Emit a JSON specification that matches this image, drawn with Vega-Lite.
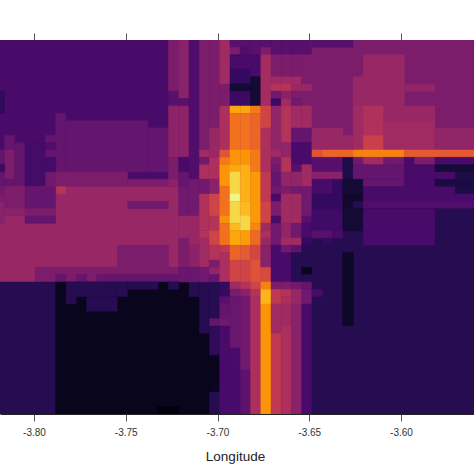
{"$schema":"https://vega.github.io/schema/vega-lite/v6.json","width":474,"height":374,"autosize":"none","padding":{"left":0,"top":40,"right":0,"bottom":60},"background":"white","view":{"stroke":null},
"resolve":{"axis":{"x":"independent"}},
"layer":[{
"data":{"values":[
{"x":-3.8217,"x2":-3.5591,"r":0,"r2":51,"v":0.2},
{"x":-3.8217,"x2":-3.7267,"r":0,"r2":20,"v":0.2},
{"x":-3.8217,"x2":-3.8161,"r":7,"r2":10,"v":0.14},
{"x":-3.7882,"x2":-3.7826,"r":10,"r2":18,"v":0.27},
{"x":-3.7826,"x2":-3.7379,"r":11,"r2":18,"v":0.27},
{"x":-3.7379,"x2":-3.7267,"r":12,"r2":18,"v":0.27},
{"x":-3.8161,"x2":-3.8105,"r":13,"r2":15,"v":0.27},
{"x":-3.8161,"x2":-3.8105,"r":15,"r2":19,"v":0.33},
{"x":-3.8161,"x2":-3.8105,"r":19,"r2":20,"v":0.27},
{"x":-3.8105,"x2":-3.8049,"r":14,"r2":20,"v":0.27},
{"x":-3.8217,"x2":-3.8161,"r":15,"r2":17,"v":0.27},
{"x":-3.8217,"x2":-3.8161,"r":17,"r2":18,"v":0.17},
{"x":-3.8217,"x2":-3.8161,"r":18,"r2":20,"v":0.27},
{"x":-3.8049,"x2":-3.7937,"r":14,"r2":20,"v":0.19},
{"x":-3.7937,"x2":-3.7882,"r":13,"r2":14,"v":0.27},
{"x":-3.7937,"x2":-3.7882,"r":14,"r2":15,"v":0.22},
{"x":-3.7937,"x2":-3.7882,"r":15,"r2":16,"v":0.27},
{"x":-3.7937,"x2":-3.7882,"r":16,"r2":18,"v":0.19},
{"x":-3.7937,"x2":-3.7882,"r":18,"r2":20,"v":0.3},
{"x":-3.7882,"x2":-3.749,"r":18,"r2":20,"v":0.33},
{"x":-3.749,"x2":-3.7267,"r":19,"r2":20,"v":0.33},
{"x":-3.8217,"x2":-3.7211,"r":20,"r2":33,"v":0.4},
{"x":-3.7882,"x2":-3.7826,"r":20,"r2":21,"v":0.47},
{"x":-3.8217,"x2":-3.8161,"r":20,"r2":21,"v":0.3},
{"x":-3.8217,"x2":-3.8161,"r":21,"r2":22,"v":0.33},
{"x":-3.8217,"x2":-3.8161,"r":22,"r2":25,"v":0.36},
{"x":-3.8161,"x2":-3.8049,"r":20,"r2":23,"v":0.33},
{"x":-3.8161,"x2":-3.8049,"r":23,"r2":24,"v":0.36},
{"x":-3.8049,"x2":-3.7882,"r":20,"r2":23,"v":0.27},
{"x":-3.8049,"x2":-3.7882,"r":23,"r2":24,"v":0.33},
{"x":-3.8049,"x2":-3.7882,"r":24,"r2":25,"v":0.27},
{"x":-3.749,"x2":-3.7267,"r":22,"r2":23,"v":0.3},
{"x":-3.7546,"x2":-3.7267,"r":28,"r2":31,"v":0.33},
{"x":-3.7993,"x2":-3.7211,"r":31,"r2":32,"v":0.33},
{"x":-3.7993,"x2":-3.7658,"r":32,"r2":33,"v":0.33},
{"x":-3.7882,"x2":-3.7826,"r":32,"r2":33,"v":0.27},
{"x":-3.777,"x2":-3.7714,"r":32,"r2":33,"v":0.27},
{"x":-3.7658,"x2":-3.7044,"r":32,"r2":33,"v":0.27},
{"x":-3.8217,"x2":-3.7882,"r":33,"r2":51,"v":0.12},
{"x":-3.7882,"x2":-3.7044,"r":33,"r2":51,"v":0.03},
{"x":-3.7826,"x2":-3.7546,"r":33,"r2":35,"v":0.12},
{"x":-3.7826,"x2":-3.777,"r":35,"r2":36,"v":0.12},
{"x":-3.7714,"x2":-3.7546,"r":35,"r2":37,"v":0.12},
{"x":-3.7546,"x2":-3.749,"r":33,"r2":35,"v":0.12},
{"x":-3.749,"x2":-3.7323,"r":33,"r2":34,"v":0.12},
{"x":-3.7267,"x2":-3.7211,"r":33,"r2":34,"v":0.12},
{"x":-3.7155,"x2":-3.7099,"r":33,"r2":35,"v":0.12},
{"x":-3.7099,"x2":-3.7044,"r":33,"r2":40,"v":0.12},
{"x":-3.7044,"x2":-3.6988,"r":33,"r2":38,"v":0.12},
{"x":-3.7044,"x2":-3.6988,"r":38,"r2":39,"v":0.27},
{"x":-3.7044,"x2":-3.6988,"r":39,"r2":43,"v":0.14},
{"x":-3.7044,"x2":-3.6988,"r":43,"r2":48,"v":0.03},
{"x":-3.7044,"x2":-3.6988,"r":48,"r2":51,"v":0.12},
{"x":-3.7323,"x2":-3.7211,"r":50,"r2":51,"v":0},
{"x":-3.7267,"x2":-3.7211,"r":0,"r2":7,"v":0.33},
{"x":-3.7267,"x2":-3.7211,"r":7,"r2":9,"v":0.24},
{"x":-3.7267,"x2":-3.7211,"r":9,"r2":16,"v":0.37},
{"x":-3.7267,"x2":-3.7211,"r":16,"r2":19,"v":0.33},
{"x":-3.7267,"x2":-3.7211,"r":19,"r2":20,"v":0.37},
{"x":-3.7211,"x2":-3.7155,"r":0,"r2":8,"v":0.36},
{"x":-3.7211,"x2":-3.7155,"r":8,"r2":9,"v":0.24},
{"x":-3.7211,"x2":-3.7155,"r":9,"r2":16,"v":0.37},
{"x":-3.7211,"x2":-3.7155,"r":16,"r2":18,"v":0.2},
{"x":-3.7211,"x2":-3.7155,"r":18,"r2":20,"v":0.27},
{"x":-3.7211,"x2":-3.7155,"r":20,"r2":24,"v":0.3},
{"x":-3.7211,"x2":-3.7155,"r":24,"r2":27,"v":0.4},
{"x":-3.7211,"x2":-3.7155,"r":27,"r2":31,"v":0.33},
{"x":-3.7211,"x2":-3.7155,"r":31,"r2":33,"v":0.28},
{"x":-3.7155,"x2":-3.7099,"r":0,"r2":19,"v":0.22},
{"x":-3.7155,"x2":-3.7099,"r":19,"r2":24,"v":0.3},
{"x":-3.7155,"x2":-3.7099,"r":24,"r2":28,"v":0.4},
{"x":-3.7155,"x2":-3.7099,"r":28,"r2":31,"v":0.37},
{"x":-3.7155,"x2":-3.7099,"r":31,"r2":33,"v":0.28},
{"x":-3.7099,"x2":-3.7044,"r":0,"r2":15,"v":0.33},
{"x":-3.7099,"x2":-3.7044,"r":15,"r2":16,"v":0.42},
{"x":-3.7099,"x2":-3.7044,"r":16,"r2":17,"v":0.3},
{"x":-3.7099,"x2":-3.7044,"r":17,"r2":19,"v":0.45},
{"x":-3.7099,"x2":-3.7044,"r":19,"r2":21,"v":0.3},
{"x":-3.7099,"x2":-3.7044,"r":21,"r2":26,"v":0.46},
{"x":-3.7099,"x2":-3.7044,"r":26,"r2":27,"v":0.47},
{"x":-3.7099,"x2":-3.7044,"r":27,"r2":31,"v":0.42},
{"x":-3.7099,"x2":-3.7044,"r":31,"r2":33,"v":0.3},
{"x":-3.7044,"x2":-3.6988,"r":0,"r2":12,"v":0.33},
{"x":-3.7044,"x2":-3.6988,"r":12,"r2":16,"v":0.4},
{"x":-3.7044,"x2":-3.6988,"r":16,"r2":19,"v":0.45},
{"x":-3.7044,"x2":-3.6988,"r":19,"r2":21,"v":0.36},
{"x":-3.7044,"x2":-3.6988,"r":21,"r2":24,"v":0.55},
{"x":-3.7044,"x2":-3.6988,"r":24,"r2":26,"v":0.47},
{"x":-3.7044,"x2":-3.6988,"r":26,"r2":28,"v":0.55},
{"x":-3.7044,"x2":-3.6988,"r":28,"r2":30,"v":0.47},
{"x":-3.7044,"x2":-3.6988,"r":30,"r2":31,"v":0.33},
{"x":-3.7044,"x2":-3.6988,"r":31,"r2":32,"v":0.38},
{"x":-3.7044,"x2":-3.6988,"r":32,"r2":33,"v":0.27},
{"x":-3.6988,"x2":-3.6932,"r":0,"r2":6,"v":0.42},
{"x":-3.6988,"x2":-3.6932,"r":6,"r2":9,"v":0.33},
{"x":-3.6988,"x2":-3.6932,"r":9,"r2":15,"v":0.45},
{"x":-3.6988,"x2":-3.6932,"r":15,"r2":16,"v":0.6},
{"x":-3.6988,"x2":-3.6932,"r":16,"r2":17,"v":0.7},
{"x":-3.6988,"x2":-3.6932,"r":17,"r2":20,"v":0.76},
{"x":-3.6988,"x2":-3.6932,"r":20,"r2":24,"v":0.68},
{"x":-3.6988,"x2":-3.6932,"r":24,"r2":25,"v":0.75},
{"x":-3.6988,"x2":-3.6932,"r":25,"r2":28,"v":0.68},
{"x":-3.6988,"x2":-3.6932,"r":28,"r2":29,"v":0.5},
{"x":-3.6988,"x2":-3.6932,"r":29,"r2":33,"v":0.45},
{"x":-3.6988,"x2":-3.6932,"r":33,"r2":35,"v":0.16},
{"x":-3.6988,"x2":-3.6932,"r":35,"r2":36,"v":0.24},
{"x":-3.6988,"x2":-3.6932,"r":36,"r2":38,"v":0.27},
{"x":-3.6988,"x2":-3.6932,"r":38,"r2":39,"v":0.3},
{"x":-3.6988,"x2":-3.6932,"r":39,"r2":51,"v":0.2},
{"x":-3.6932,"x2":-3.6876,"r":0,"r2":1,"v":0.24},
{"x":-3.6932,"x2":-3.6876,"r":1,"r2":2,"v":0.33},
{"x":-3.6932,"x2":-3.6876,"r":2,"r2":4,"v":0.2},
{"x":-3.6932,"x2":-3.6876,"r":4,"r2":6,"v":0.15},
{"x":-3.6932,"x2":-3.6876,"r":6,"r2":7,"v":0.07},
{"x":-3.6932,"x2":-3.6876,"r":7,"r2":9,"v":0.17},
{"x":-3.6932,"x2":-3.6876,"r":9,"r2":10,"v":0.8},
{"x":-3.6932,"x2":-3.6876,"r":10,"r2":15,"v":0.68},
{"x":-3.6932,"x2":-3.6876,"r":15,"r2":17,"v":0.76},
{"x":-3.6932,"x2":-3.6876,"r":17,"r2":18,"v":0.8},
{"x":-3.6932,"x2":-3.6876,"r":18,"r2":21,"v":0.9},
{"x":-3.6932,"x2":-3.6876,"r":21,"r2":22,"v":0.97},
{"x":-3.6932,"x2":-3.6876,"r":22,"r2":25,"v":0.9},
{"x":-3.6932,"x2":-3.6876,"r":25,"r2":26,"v":0.84},
{"x":-3.6932,"x2":-3.6876,"r":26,"r2":28,"v":0.8},
{"x":-3.6932,"x2":-3.6876,"r":28,"r2":30,"v":0.65},
{"x":-3.6932,"x2":-3.6876,"r":30,"r2":33,"v":0.55},
{"x":-3.6932,"x2":-3.6876,"r":33,"r2":34,"v":0.42},
{"x":-3.6932,"x2":-3.6876,"r":34,"r2":35,"v":0.32},
{"x":-3.6932,"x2":-3.6876,"r":35,"r2":42,"v":0.28},
{"x":-3.6932,"x2":-3.6876,"r":42,"r2":51,"v":0.2},
{"x":-3.6876,"x2":-3.682,"r":0,"r2":1,"v":0.24},
{"x":-3.6876,"x2":-3.682,"r":1,"r2":2,"v":0.22},
{"x":-3.6876,"x2":-3.682,"r":2,"r2":4,"v":0.2},
{"x":-3.6876,"x2":-3.682,"r":4,"r2":6,"v":0.15},
{"x":-3.6876,"x2":-3.682,"r":6,"r2":7,"v":0.07},
{"x":-3.6876,"x2":-3.682,"r":7,"r2":9,"v":0.17},
{"x":-3.6876,"x2":-3.682,"r":9,"r2":10,"v":0.8},
{"x":-3.6876,"x2":-3.682,"r":10,"r2":15,"v":0.68},
{"x":-3.6876,"x2":-3.682,"r":15,"r2":17,"v":0.76},
{"x":-3.6876,"x2":-3.682,"r":17,"r2":22,"v":0.82},
{"x":-3.6876,"x2":-3.682,"r":22,"r2":24,"v":0.84},
{"x":-3.6876,"x2":-3.682,"r":24,"r2":26,"v":0.9},
{"x":-3.6876,"x2":-3.682,"r":26,"r2":28,"v":0.78},
{"x":-3.6876,"x2":-3.682,"r":28,"r2":30,"v":0.62},
{"x":-3.6876,"x2":-3.682,"r":30,"r2":33,"v":0.55},
{"x":-3.6876,"x2":-3.682,"r":33,"r2":34,"v":0.47},
{"x":-3.6876,"x2":-3.682,"r":34,"r2":35,"v":0.36},
{"x":-3.6876,"x2":-3.682,"r":35,"r2":45,"v":0.3},
{"x":-3.6876,"x2":-3.682,"r":45,"r2":51,"v":0.25},
{"x":-3.682,"x2":-3.6764,"r":0,"r2":2,"v":0.24},
{"x":-3.682,"x2":-3.6764,"r":2,"r2":5,"v":0.2},
{"x":-3.682,"x2":-3.6764,"r":5,"r2":9,"v":0.07},
{"x":-3.682,"x2":-3.6764,"r":9,"r2":10,"v":0.7},
{"x":-3.682,"x2":-3.6764,"r":10,"r2":15,"v":0.65},
{"x":-3.682,"x2":-3.6764,"r":15,"r2":18,"v":0.7},
{"x":-3.682,"x2":-3.6764,"r":18,"r2":25,"v":0.77},
{"x":-3.682,"x2":-3.6764,"r":25,"r2":26,"v":0.73},
{"x":-3.682,"x2":-3.6764,"r":26,"r2":28,"v":0.66},
{"x":-3.682,"x2":-3.6764,"r":28,"r2":30,"v":0.56},
{"x":-3.682,"x2":-3.6764,"r":30,"r2":33,"v":0.6},
{"x":-3.682,"x2":-3.6764,"r":33,"r2":34,"v":0.55},
{"x":-3.682,"x2":-3.6764,"r":34,"r2":35,"v":0.47},
{"x":-3.682,"x2":-3.6764,"r":35,"r2":51,"v":0.45},
{"x":-3.6764,"x2":-3.6708,"r":0,"r2":1,"v":0.24},
{"x":-3.6764,"x2":-3.6708,"r":1,"r2":2,"v":0.33},
{"x":-3.6764,"x2":-3.6708,"r":2,"r2":9,"v":0.43},
{"x":-3.6764,"x2":-3.6708,"r":9,"r2":12,"v":0.55},
{"x":-3.6764,"x2":-3.6708,"r":12,"r2":18,"v":0.45},
{"x":-3.6764,"x2":-3.6708,"r":18,"r2":22,"v":0.5},
{"x":-3.6764,"x2":-3.6708,"r":22,"r2":25,"v":0.55},
{"x":-3.6764,"x2":-3.6708,"r":25,"r2":26,"v":0.42},
{"x":-3.6764,"x2":-3.6708,"r":26,"r2":27,"v":0.45},
{"x":-3.6764,"x2":-3.6708,"r":27,"r2":28,"v":0.4},
{"x":-3.6764,"x2":-3.6708,"r":28,"r2":31,"v":0.36},
{"x":-3.6764,"x2":-3.6708,"r":31,"r2":33,"v":0.57},
{"x":-3.6764,"x2":-3.6708,"r":33,"r2":34,"v":0.72},
{"x":-3.6764,"x2":-3.6708,"r":34,"r2":36,"v":0.83},
{"x":-3.6764,"x2":-3.6708,"r":36,"r2":51,"v":0.76},
{"x":-3.6708,"x2":-3.6653,"r":0,"r2":2,"v":0.24},
{"x":-3.6708,"x2":-3.6653,"r":2,"r2":5,"v":0.33},
{"x":-3.6708,"x2":-3.6653,"r":5,"r2":6,"v":0.42},
{"x":-3.6708,"x2":-3.6653,"r":6,"r2":7,"v":0.47},
{"x":-3.6708,"x2":-3.6653,"r":7,"r2":8,"v":0.3},
{"x":-3.6708,"x2":-3.6653,"r":8,"r2":9,"v":0.17},
{"x":-3.6708,"x2":-3.6653,"r":9,"r2":15,"v":0.38},
{"x":-3.6708,"x2":-3.6653,"r":15,"r2":16,"v":0.42},
{"x":-3.6708,"x2":-3.6653,"r":16,"r2":17,"v":0.33},
{"x":-3.6708,"x2":-3.6653,"r":17,"r2":18,"v":0.3},
{"x":-3.6708,"x2":-3.6653,"r":18,"r2":20,"v":0.27},
{"x":-3.6708,"x2":-3.6653,"r":20,"r2":21,"v":0.3},
{"x":-3.6708,"x2":-3.6653,"r":21,"r2":22,"v":0.2},
{"x":-3.6708,"x2":-3.6653,"r":22,"r2":24,"v":0.33},
{"x":-3.6708,"x2":-3.6653,"r":24,"r2":25,"v":0.2},
{"x":-3.6708,"x2":-3.6653,"r":25,"r2":28,"v":0.3},
{"x":-3.6708,"x2":-3.6653,"r":28,"r2":33,"v":0.2},
{"x":-3.6708,"x2":-3.6653,"r":33,"r2":34,"v":0.33},
{"x":-3.6708,"x2":-3.6653,"r":34,"r2":36,"v":0.5},
{"x":-3.6708,"x2":-3.6653,"r":36,"r2":40,"v":0.42},
{"x":-3.6708,"x2":-3.6653,"r":40,"r2":51,"v":0.5},
{"x":-3.6653,"x2":-3.6597,"r":0,"r2":2,"v":0.24},
{"x":-3.6653,"x2":-3.6597,"r":2,"r2":5,"v":0.33},
{"x":-3.6653,"x2":-3.6597,"r":5,"r2":6,"v":0.42},
{"x":-3.6653,"x2":-3.6597,"r":6,"r2":7,"v":0.47},
{"x":-3.6653,"x2":-3.6597,"r":7,"r2":8,"v":0.36},
{"x":-3.6653,"x2":-3.6597,"r":8,"r2":9,"v":0.42},
{"x":-3.6653,"x2":-3.6597,"r":9,"r2":14,"v":0.47},
{"x":-3.6653,"x2":-3.6597,"r":14,"r2":16,"v":0.38},
{"x":-3.6653,"x2":-3.6597,"r":16,"r2":18,"v":0.47},
{"x":-3.6653,"x2":-3.6597,"r":18,"r2":20,"v":0.38},
{"x":-3.6653,"x2":-3.6597,"r":20,"r2":21,"v":0.33},
{"x":-3.6653,"x2":-3.6597,"r":21,"r2":25,"v":0.42},
{"x":-3.6653,"x2":-3.6597,"r":25,"r2":27,"v":0.38},
{"x":-3.6653,"x2":-3.6597,"r":27,"r2":28,"v":0.42},
{"x":-3.6653,"x2":-3.6597,"r":28,"r2":29,"v":0.3},
{"x":-3.6653,"x2":-3.6597,"r":29,"r2":33,"v":0.2},
{"x":-3.6653,"x2":-3.6597,"r":33,"r2":34,"v":0.33},
{"x":-3.6653,"x2":-3.6597,"r":34,"r2":35,"v":0.47},
{"x":-3.6653,"x2":-3.6597,"r":35,"r2":36,"v":0.45},
{"x":-3.6653,"x2":-3.6597,"r":36,"r2":39,"v":0.42},
{"x":-3.6653,"x2":-3.6597,"r":39,"r2":51,"v":0.45},
{"x":-3.6597,"x2":-3.6541,"r":0,"r2":2,"v":0.24},
{"x":-3.6597,"x2":-3.6541,"r":2,"r2":5,"v":0.33},
{"x":-3.6597,"x2":-3.6541,"r":5,"r2":6,"v":0.42},
{"x":-3.6597,"x2":-3.6541,"r":6,"r2":7,"v":0.4},
{"x":-3.6597,"x2":-3.6541,"r":7,"r2":8,"v":0.33},
{"x":-3.6597,"x2":-3.6541,"r":8,"r2":9,"v":0.3},
{"x":-3.6597,"x2":-3.6541,"r":9,"r2":12,"v":0.42},
{"x":-3.6597,"x2":-3.6541,"r":12,"r2":14,"v":0.27},
{"x":-3.6597,"x2":-3.6541,"r":14,"r2":17,"v":0.2},
{"x":-3.6597,"x2":-3.6541,"r":17,"r2":18,"v":0.24},
{"x":-3.6597,"x2":-3.6541,"r":18,"r2":20,"v":0.38},
{"x":-3.6597,"x2":-3.6541,"r":20,"r2":21,"v":0.3},
{"x":-3.6597,"x2":-3.6541,"r":21,"r2":25,"v":0.42},
{"x":-3.6597,"x2":-3.6541,"r":25,"r2":27,"v":0.3},
{"x":-3.6597,"x2":-3.6541,"r":27,"r2":28,"v":0.42},
{"x":-3.6597,"x2":-3.6541,"r":28,"r2":29,"v":0.25},
{"x":-3.6597,"x2":-3.6541,"r":29,"r2":33,"v":0.12},
{"x":-3.6597,"x2":-3.6541,"r":33,"r2":34,"v":0.3},
{"x":-3.6597,"x2":-3.6541,"r":34,"r2":36,"v":0.4},
{"x":-3.6597,"x2":-3.6541,"r":36,"r2":51,"v":0.36},
{"x":-3.6541,"x2":-3.6485,"r":0,"r2":2,"v":0.24},
{"x":-3.6541,"x2":-3.6485,"r":2,"r2":6,"v":0.33},
{"x":-3.6541,"x2":-3.6485,"r":6,"r2":7,"v":0.4},
{"x":-3.6541,"x2":-3.6485,"r":7,"r2":9,"v":0.33},
{"x":-3.6541,"x2":-3.6485,"r":9,"r2":12,"v":0.42},
{"x":-3.6541,"x2":-3.6485,"r":12,"r2":14,"v":0.27},
{"x":-3.6541,"x2":-3.6485,"r":14,"r2":17,"v":0.2},
{"x":-3.6541,"x2":-3.6485,"r":17,"r2":20,"v":0.42},
{"x":-3.6541,"x2":-3.6485,"r":20,"r2":24,"v":0.3},
{"x":-3.6541,"x2":-3.6485,"r":24,"r2":25,"v":0.24},
{"x":-3.6541,"x2":-3.6485,"r":25,"r2":27,"v":0.2},
{"x":-3.6541,"x2":-3.6485,"r":27,"r2":28,"v":0.15},
{"x":-3.6541,"x2":-3.6485,"r":28,"r2":31,"v":0.12},
{"x":-3.6541,"x2":-3.6485,"r":31,"r2":32,"v":0.03},
{"x":-3.6541,"x2":-3.6485,"r":32,"r2":33,"v":0.12},
{"x":-3.6541,"x2":-3.6485,"r":33,"r2":34,"v":0.27},
{"x":-3.6541,"x2":-3.6485,"r":34,"r2":36,"v":0.3},
{"x":-3.6541,"x2":-3.6485,"r":36,"r2":51,"v":0.2},
{"x":-3.6485,"x2":-3.5591,"r":0,"r2":16,"v":0.33},
{"x":-3.6485,"x2":-3.6261,"r":0,"r2":1,"v":0.24},
{"x":-3.6206,"x2":-3.5982,"r":2,"r2":9,"v":0.4},
{"x":-3.6261,"x2":-3.6206,"r":5,"r2":9,"v":0.4},
{"x":-3.5982,"x2":-3.5815,"r":6,"r2":7,"v":0.38},
{"x":-3.6261,"x2":-3.6206,"r":9,"r2":15,"v":0.42},
{"x":-3.6206,"x2":-3.6094,"r":9,"r2":13,"v":0.46},
{"x":-3.6206,"x2":-3.6094,"r":13,"r2":15,"v":0.53},
{"x":-3.6094,"x2":-3.5815,"r":9,"r2":11,"v":0.4},
{"x":-3.6094,"x2":-3.5815,"r":11,"r2":15,"v":0.42},
{"x":-3.5815,"x2":-3.5591,"r":12,"r2":15,"v":0.38},
{"x":-3.6485,"x2":-3.6317,"r":12,"r2":15,"v":0.4},
{"x":-3.6317,"x2":-3.6261,"r":13,"r2":15,"v":0.4},
{"x":-3.6485,"x2":-3.6429,"r":15,"r2":16,"v":0.6},
{"x":-3.6429,"x2":-3.6261,"r":15,"r2":16,"v":0.65},
{"x":-3.6261,"x2":-3.5982,"r":15,"r2":16,"v":0.72},
{"x":-3.5982,"x2":-3.5591,"r":15,"r2":16,"v":0.62},
{"x":-3.6485,"x2":-3.6317,"r":16,"r2":17,"v":0.24},
{"x":-3.6317,"x2":-3.6261,"r":16,"r2":17,"v":0.1},
{"x":-3.6261,"x2":-3.6206,"r":16,"r2":17,"v":0.3},
{"x":-3.6206,"x2":-3.6094,"r":16,"r2":17,"v":0.42},
{"x":-3.6094,"x2":-3.5982,"r":16,"r2":17,"v":0.3},
{"x":-3.5982,"x2":-3.5926,"r":16,"r2":17,"v":0.2},
{"x":-3.5926,"x2":-3.5815,"r":16,"r2":17,"v":0.33},
{"x":-3.5815,"x2":-3.5591,"r":16,"r2":17,"v":0.2},
{"x":-3.6485,"x2":-3.6317,"r":17,"r2":18,"v":0.24},
{"x":-3.6317,"x2":-3.6261,"r":17,"r2":18,"v":0.1},
{"x":-3.6261,"x2":-3.5982,"r":17,"r2":18,"v":0.27},
{"x":-3.5982,"x2":-3.5815,"r":17,"r2":18,"v":0.2},
{"x":-3.5815,"x2":-3.5591,"r":17,"r2":18,"v":0.08},
{"x":-3.6485,"x2":-3.6317,"r":18,"r2":19,"v":0.36},
{"x":-3.6317,"x2":-3.6261,"r":18,"r2":19,"v":0.1},
{"x":-3.6261,"x2":-3.5982,"r":18,"r2":19,"v":0.27},
{"x":-3.5982,"x2":-3.5703,"r":18,"r2":19,"v":0.2},
{"x":-3.5703,"x2":-3.5591,"r":18,"r2":19,"v":0.1},
{"x":-3.6485,"x2":-3.6373,"r":19,"r2":21,"v":0.2},
{"x":-3.6373,"x2":-3.6317,"r":19,"r2":21,"v":0.15},
{"x":-3.6317,"x2":-3.6206,"r":19,"r2":21,"v":0.07},
{"x":-3.6206,"x2":-3.5982,"r":19,"r2":20,"v":0.27},
{"x":-3.5982,"x2":-3.5815,"r":19,"r2":20,"v":0.2},
{"x":-3.5815,"x2":-3.5591,"r":19,"r2":20,"v":0.09},
{"x":-3.6206,"x2":-3.5703,"r":20,"r2":21,"v":0.2},
{"x":-3.5703,"x2":-3.5591,"r":20,"r2":21,"v":0.1},
{"x":-3.6485,"x2":-3.6317,"r":21,"r2":22,"v":0.15},
{"x":-3.6317,"x2":-3.6206,"r":21,"r2":22,"v":0.06},
{"x":-3.6206,"x2":-3.5591,"r":21,"r2":22,"v":0.2},
{"x":-3.6485,"x2":-3.6317,"r":22,"r2":23,"v":0.15},
{"x":-3.6317,"x2":-3.6261,"r":22,"r2":23,"v":0.06},
{"x":-3.6261,"x2":-3.6206,"r":22,"r2":23,"v":0.12},
{"x":-3.6206,"x2":-3.5591,"r":22,"r2":23,"v":0.22},
{"x":-3.6485,"x2":-3.5591,"r":23,"r2":51,"v":0.12},
{"x":-3.6485,"x2":-3.6317,"r":23,"r2":26,"v":0.18},
{"x":-3.6317,"x2":-3.6206,"r":23,"r2":26,"v":0.07},
{"x":-3.6206,"x2":-3.5815,"r":23,"r2":28,"v":0.2},
{"x":-3.6485,"x2":-3.6373,"r":26,"r2":27,"v":0.24},
{"x":-3.6373,"x2":-3.6317,"r":26,"r2":27,"v":0.2},
{"x":-3.6429,"x2":-3.6373,"r":27,"r2":28,"v":0.15},
{"x":-3.6317,"x2":-3.6261,"r":29,"r2":39,"v":0.05},
{"x":-3.6485,"x2":-3.6429,"r":34,"r2":35,"v":0.2}
]},
"mark":{"type":"rect","clip":true,"strokeWidth":0.5},
"encoding":{
"x":{"field":"x","type":"quantitative","scale":{"domain":[-3.81853,-3.56022],"nice":false,"zero":false},
 "axis":{"orient":"bottom","title":"Longitude","values":[-3.8,-3.75,-3.7,-3.65,-3.6],"labelExpr":"replace(format(datum.value,'.2f'),'−','-')","grid":false,"domain":true,"domainColor":"#222222","domainWidth":1,"tickColor":"#555555","tickSize":7,"labelFont":"Liberation Sans","labelFontSize":10,"labelColor":"#333333","labelPadding":6,"titleFont":"Liberation Sans","titleFontSize":13.5,"titleFontWeight":"normal","titleColor":"#222222","titlePadding":12,"titleX":235}},
"x2":{"field":"x2"},
"y":{"field":"r","type":"quantitative","scale":{"domain":[0,51],"reverse":true,"nice":false,"zero":false},"axis":null},
"y2":{"field":"r2"},
"color":{"field":"v","type":"quantitative","scale":{"scheme":"inferno","domain":[-0.02,1]},"legend":null},
"stroke":{"field":"v","type":"quantitative","scale":{"scheme":"inferno","domain":[-0.02,1]},"legend":null}
}},
{
"data":{"values":[{"x":-3.8},{"x":-3.75},{"x":-3.7},{"x":-3.65},{"x":-3.6}]},
"mark":{"type":"rule","opacity":0},
"encoding":{"x":{"field":"x","type":"quantitative","scale":{"domain":[-3.81853,-3.56022],"nice":false,"zero":false},
 "axis":{"orient":"top","title":null,"labels":false,"values":[-3.8,-3.75,-3.7,-3.65,-3.6],"grid":false,"domain":true,"domainColor":"#222222","domainWidth":1,"tickColor":"#555555","tickSize":7}}}
}
]}
